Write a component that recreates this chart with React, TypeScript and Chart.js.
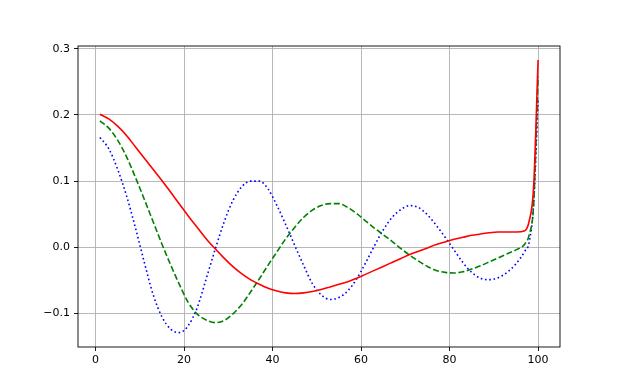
import React, { useEffect, useRef } from "react";
import { Chart, registerables } from "chart.js";

Chart.register(...registerables);

const xValues = [1, 3, 5, 7, 9, 11, 13, 15, 17, 19, 21, 23, 25, 27, 29, 31, 33, 35, 37, 39, 41, 43, 45, 47, 49, 51, 53, 55, 57, 59, 61, 63, 65, 67, 69, 71, 73, 75, 77, 79, 81, 83, 85, 87, 89, 91, 93, 95, 97, 98, 99, 100];

const blueValues = [0.166, 0.149, 0.118, 0.078, 0.030, -0.022, -0.071, -0.105, -0.124, -0.129, -0.118, -0.091, -0.048, -0.004, 0.037, 0.070, 0.091, 0.100, 0.100, 0.088, 0.063, 0.034, 0.003, -0.027, -0.055, -0.072, -0.079, -0.076, -0.066, -0.048, -0.024, 0.002, 0.026, 0.045, 0.057, 0.063, 0.060, 0.049, 0.033, 0.015, -0.004, -0.023, -0.038, -0.047, -0.049, -0.046, -0.038, -0.025, -0.006, 0.008, 0.066, 0.223];

const greenValues = [0.191, 0.180, 0.162, 0.137, 0.106, 0.073, 0.039, 0.005, -0.027, -0.057, -0.084, -0.101, -0.110, -0.114, -0.111, -0.101, -0.087, -0.068, -0.048, -0.027, -0.007, 0.013, 0.030, 0.045, 0.056, 0.063, 0.066, 0.066, 0.060, 0.051, 0.040, 0.029, 0.019, 0.009, -0.002, -0.012, -0.021, -0.029, -0.035, -0.038, -0.039, -0.037, -0.033, -0.028, -0.022, -0.016, -0.010, -0.004, 0.005, 0.019, 0.066, 0.258];

const redValues = [0.201, 0.194, 0.183, 0.169, 0.152, 0.135, 0.118, 0.101, 0.083, 0.065, 0.047, 0.030, 0.013, -0.002, -0.016, -0.029, -0.040, -0.049, -0.056, -0.062, -0.066, -0.069, -0.070, -0.069, -0.067, -0.064, -0.060, -0.056, -0.052, -0.047, -0.041, -0.035, -0.029, -0.023, -0.017, -0.011, -0.006, -0.001, 0.004, 0.008, 0.012, 0.015, 0.018, 0.020, 0.022, 0.023, 0.023, 0.023, 0.025, 0.040, 0.092, 0.283];

const xTicks = [0, 20, 40, 60, 80, 100];
const yTicks = [-0.1, 0.0, 0.1, 0.2, 0.3];

const toPoints = (ys: number[]) => ys.map((y, i) => ({ x: xValues[i], y }));

const boxPlugin = {
  id: "box",
  afterDraw(chart: any) {
    const { ctx, chartArea } = chart;
    ctx.save();
    ctx.strokeStyle = "#000";
    ctx.lineWidth = 0.9;
    ctx.strokeRect(chartArea.left, chartArea.top, chartArea.right - chartArea.left, chartArea.bottom - chartArea.top);
    ctx.restore();
  },
};

export default function App() {
  const ref = useRef<HTMLCanvasElement | null>(null);

  useEffect(() => {
    document.body.style.margin = "0";
    const canvas = ref.current;
    if (!canvas) return;
    const font = { family: "'DejaVu Sans', sans-serif", size: 11 };
    const chart = new Chart(canvas, {
      type: "line",
      data: {
        datasets: [
          {
            label: "red",
            data: toPoints(redValues),
            borderColor: "#ff0000",
            borderWidth: 1.6,
            pointRadius: 0,
            cubicInterpolationMode: "monotone",
            fill: false,
          },
          {
            label: "green",
            data: toPoints(greenValues),
            borderColor: "#008000",
            borderWidth: 1.6,
            borderDash: [6, 2.6],
            pointRadius: 0,
            cubicInterpolationMode: "monotone",
            fill: false,
          },
          {
            label: "blue",
            data: toPoints(blueValues),
            borderColor: "#0000ff",
            borderWidth: 1.6,
            borderDash: [1.6, 2.7],
            pointRadius: 0,
            cubicInterpolationMode: "monotone",
            fill: false,
          },
        ],
      },
      options: {
        animation: false,
        responsive: false,
        maintainAspectRatio: false,
        layout: { padding: { left: 0, top: 46, right: 63, bottom: 0 } },
        plugins: { legend: { display: false }, tooltip: { enabled: false } },
        scales: {
          x: {
            type: "linear",
            min: -3.95,
            max: 104.95,
            afterBuildTicks: (s: any) => {
              s.ticks = xTicks.map((v) => ({ value: v }));
            },
            afterFit: (s: any) => {
              s.height = 43;
            },
            grid: { color: "#b0b0b0", lineWidth: 0.9, tickColor: "#000", tickLength: 4, drawTicks: true },
            border: { display: false },
            ticks: {
              color: "#000",
              font,
              padding: 3,
              maxRotation: 0,
              callback: (v: any) => String(v),
            },
          },
          y: {
            type: "linear",
            min: -0.1508,
            max: 0.3042,
            afterBuildTicks: (s: any) => {
              s.ticks = yTicks.map((v) => ({ value: v }));
            },
            afterFit: (s: any) => {
              s.width = 78;
            },
            grid: { color: "#b0b0b0", lineWidth: 0.9, tickColor: "#000", tickLength: 4, drawTicks: true },
            border: { display: false },
            ticks: {
              color: "#000",
              font,
              padding: 4,
              callback: (v: any) => {
                const n = Number(v);
                const s = Math.abs(n).toFixed(1);
                return n < -1e-9 ? "\u2212" + s : s;
              },
            },
          },
        },
      },
      plugins: [boxPlugin],
    });
    return () => chart.destroy();
  }, []);

  return (
    <div style={{ width: 623, height: 390, background: "#fff" }}>
      <canvas ref={ref} width={623} height={390} style={{ display: "block" }} />
    </div>
  );
}
